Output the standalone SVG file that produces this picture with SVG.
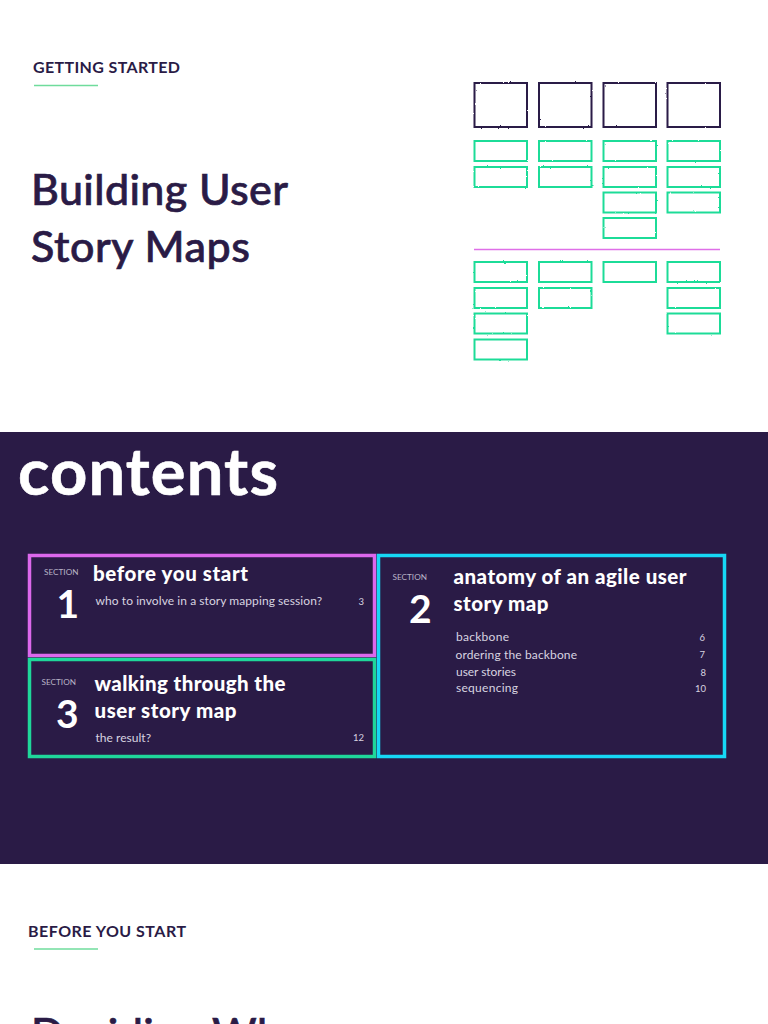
<svg xmlns="http://www.w3.org/2000/svg" width="768" height="1024" viewBox="0 0 768 1024">
<style>
text{font-family:Lato,"Noto Sans",sans-serif}
.eyebrow{font-size:16px;font-weight:700;fill:#2a1b46}
.title{font-size:43px;font-weight:500;fill:#2a1b46;stroke:#2a1b46;stroke-width:.7}
.rule{stroke:#6fdc9c;stroke-width:1.6;fill:none}
.big{stroke:#2a1b46;stroke-width:2;fill:#fff}
.card{stroke:#1fdc98;stroke-width:2;fill:#fff}
.sec{font-size:8.200px;font-weight:400;fill:#b9b4c6}
.num{font-size:39px;font-weight:700;fill:#fff;text-anchor:end}
.head{font-size:20.500px;font-weight:900;fill:#fff}
.sub{font-size:12px;font-weight:400;fill:#d8d4e0}
.page{font-size:9.500px;font-weight:400;fill:#d8d4e0;text-anchor:end}
.frame{fill:#2a1b46;stroke-width:3.500}
</style>
<defs>
<filter id="rough" x="-2%" y="-2%" width="104%" height="104%">
<feTurbulence type="fractalNoise" baseFrequency="0.4" numOctaves="2" seed="4" result="n"/>
<feDisplacementMap in="SourceGraphic" in2="n" scale="1.800" xChannelSelector="R" yChannelSelector="G"/>
</filter>
</defs>
<rect width="768" height="1024" fill="#fff"/>
<g id="cover-heading">
<text class="eyebrow" x="33" y="73" textLength="147">GETTING STARTED</text>
<line class="rule" x1="34" y1="85.500" x2="98" y2="85.500"/>
<text class="title" x="31" y="205" textLength="257">Building User</text>
<text class="title" x="31" y="262" textLength="219">Story Maps</text>
</g>
<g id="story-map" filter="url(#rough)">
<rect class="big" x="474.500" y="83" width="52.500" height="44"/>
<rect class="big" x="539" y="83" width="52.500" height="44"/>
<rect class="big" x="603.500" y="83" width="52.500" height="44"/>
<rect class="big" x="667.500" y="83" width="52.500" height="44"/>
<rect class="card" x="474.500" y="141" width="52.500" height="20"/>
<rect class="card" x="474.500" y="167" width="52.500" height="20"/>
<rect class="card" x="539" y="141" width="52.500" height="20"/>
<rect class="card" x="539" y="167" width="52.500" height="20"/>
<rect class="card" x="603.500" y="141" width="52.500" height="20"/>
<rect class="card" x="603.500" y="167" width="52.500" height="20"/>
<rect class="card" x="603.500" y="192.500" width="52.500" height="20"/>
<rect class="card" x="603.500" y="218" width="52.500" height="20"/>
<rect class="card" x="667.500" y="141" width="52.500" height="20"/>
<rect class="card" x="667.500" y="167" width="52.500" height="20"/>
<rect class="card" x="667.500" y="192.500" width="52.500" height="20"/>
<rect class="card" x="474.500" y="262" width="52.500" height="20"/>
<rect class="card" x="474.500" y="288" width="52.500" height="20"/>
<rect class="card" x="474.500" y="313.500" width="52.500" height="20"/>
<rect class="card" x="474.500" y="339.500" width="52.500" height="20"/>
<rect class="card" x="539" y="262" width="52.500" height="20"/>
<rect class="card" x="539" y="288" width="52.500" height="20"/>
<rect class="card" x="603.500" y="262" width="52.500" height="20"/>
<rect class="card" x="667.500" y="262" width="52.500" height="20"/>
<rect class="card" x="667.500" y="288" width="52.500" height="20"/>
<rect class="card" x="667.500" y="313.500" width="52.500" height="20"/>
</g>
<line x1="474" y1="249.500" x2="720" y2="249.500" stroke="#df6fe8" stroke-width="1.300"/>
<rect id="contents-band" x="0" y="432" width="768" height="432" fill="#2a1b46"/>
<text x="18" y="495" font-size="65" font-weight="700" fill="#fff" stroke="#fff" stroke-width=".6" textLength="260">contents</text>
<g id="section-1">
<rect class="frame" x="29.500" y="555.500" width="345" height="100" stroke="#dc68ec"/>
<text class="sec" x="44" y="575">SECTION</text>
<text class="num" x="79" y="618">1</text>
<text class="head" x="93" y="581" textLength="155">before you start</text>
<text class="sub" x="95.500" y="605" textLength="226.500">who to involve in a story mapping session?</text>
<text class="page" x="364" y="605">3</text>
</g>
<g id="section-3">
<rect class="frame" x="29.500" y="659.500" width="345" height="97" stroke="#1fd79a"/>
<text class="sec" x="41.500" y="685">SECTION</text>
<text class="num" x="78.500" y="728">3</text>
<text class="head" x="94.500" y="690.500" textLength="191">walking through the</text>
<text class="head" x="94.500" y="717.500" textLength="142">user story map</text>
<text class="sub" x="95.500" y="742" textLength="55.500">the result?</text>
<text class="page" x="364" y="741">12</text>
</g>
<g id="section-2">
<rect class="frame" x="378.500" y="555.500" width="346" height="201" stroke="#16d8f5"/>
<text class="sec" x="392.500" y="580">SECTION</text>
<text class="num" x="431.500" y="623">2</text>
<text class="head" x="453.500" y="583.500" textLength="233">anatomy of an agile user</text>
<text class="head" x="453.500" y="610.500" textLength="95">story map</text>
<text class="sub" x="456" y="641" textLength="53">backbone</text>
<text class="page" x="705" y="641">6</text>
<text class="sub" x="455.500" y="659" textLength="121.500">ordering the backbone</text>
<text class="page" x="705" y="658">7</text>
<text class="sub" x="456" y="676" textLength="60">user stories</text>
<text class="page" x="706" y="676">8</text>
<text class="sub" x="456" y="692" textLength="62">sequencing</text>
<text class="page" x="706" y="692">10</text>
</g>
<g id="next-page">
<text class="eyebrow" x="28" y="937" textLength="158">BEFORE YOU START</text>
<line class="rule" x1="34" y1="949" x2="98" y2="949"/>
<text class="title" x="31" y="1049" textLength="250">Deciding Wh</text>
</g>
</svg>
